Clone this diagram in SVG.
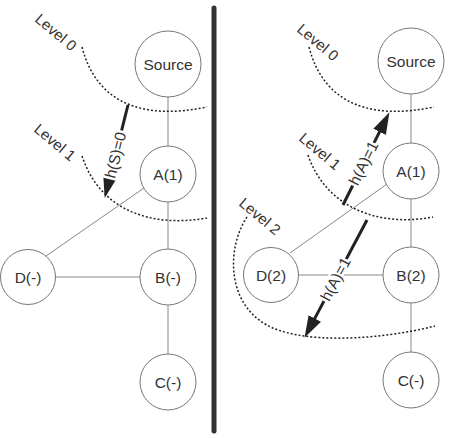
<svg xmlns="http://www.w3.org/2000/svg" width="474" height="439" viewBox="0 0 474 439">
<defs>
<style>
.node circle{fill:#fff;stroke:#777;stroke-width:1}
.node text,.lbl{font-family:"Liberation Sans",Arial,sans-serif;font-size:15.5px;fill:#333;text-anchor:middle}
.lbl{font-size:15px}
.edge{stroke:#888;stroke-width:1;fill:none}
.lvl{stroke:#222;stroke-width:1.5;stroke-dasharray:2 2;fill:none}
.arr{stroke:#222;stroke-width:3;fill:none;marker-end:url(#ah)}
.alb{font-family:"Liberation Sans",Arial,sans-serif;font-size:15.5px;fill:#333;text-anchor:middle;stroke:#fff;stroke-width:5;paint-order:stroke;stroke-linejoin:round}
</style>
<marker id="ah" markerUnits="userSpaceOnUse" markerWidth="22" markerHeight="14" refX="13" refY="7" orient="auto" viewBox="0 0 22 14">
<path d="M0,0 L22,7 L0,14 z" fill="#222"/>
</marker>
</defs>
<rect width="474" height="439" fill="#fff"/>
<line x1="214" y1="8" x2="214" y2="431" stroke="#333" stroke-width="5" stroke-linecap="round"/>
<g id="connectors">
<line class="edge" x1="168" y1="97" x2="168" y2="146"/>
<line class="edge" x1="168" y1="202" x2="168" y2="249"/>
<line class="edge" x1="168" y1="305" x2="168" y2="354"/>
<line class="edge" x1="55" y1="277" x2="140" y2="277"/>
<line class="edge" x1="144" y1="188" x2="46" y2="256"/>
<line class="edge" x1="411" y1="94" x2="411" y2="143"/>
<line class="edge" x1="411" y1="199" x2="411" y2="248"/>
<line class="edge" x1="411" y1="303" x2="411" y2="352"/>
<line class="edge" x1="299" y1="275" x2="384" y2="275"/>
<line class="edge" x1="387" y1="184" x2="290" y2="253"/>
</g>
<g id="levels">
<path class="lvl" d="M82,47 C97,105 145,120 207,107"/>
<path class="lvl" d="M82,156 C100,210 150,228 207,218"/>
<path class="lvl" d="M309,47 C324,105 372,120 434,107"/>
<path class="lvl" d="M308,155 C325,205 375,228 433,217"/>
<path class="lvl" d="M247,217 C228,245 225,300 265,324 C300,345 380,340 435,326"/>
<text class="lbl" transform="translate(52.5,36.2) rotate(40)">Level 0</text>
<text class="lbl" transform="translate(51.5,146.2) rotate(40)">Level 1</text>
<text class="lbl" transform="translate(314.5,46.2) rotate(40)">Level 0</text>
<text class="lbl" transform="translate(316.5,155.2) rotate(40)">Level 1</text>
<text class="lbl" transform="translate(256.5,220.2) rotate(40)">Level 2</text>
</g>
<g id="arrows">
<line class="arr" x1="128" y1="105" x2="106.9" y2="189.2"/>
<text class="alb" transform="translate(115.5,155) rotate(-76)" dy="0.35em">h(S)=0</text>
<line class="arr" x1="343" y1="205" x2="385.4" y2="120.2"/>
<text class="alb" transform="translate(363.5,163) rotate(-63.4)" dy="0.35em">h(A)=1</text>
<line class="arr" x1="367" y1="220" x2="308.7" y2="329.9"/>
<text class="alb" transform="translate(335.5,279) rotate(-62.1)" dy="0.35em">h(A)=1</text>
</g>
<g id="L_Source" class="node"><circle cx="168" cy="64" r="33"/><text x="168" y="69.5">Source</text></g>
<g id="L_A" class="node"><circle cx="168" cy="174" r="28"/><text x="168" y="179.5">A(1)</text></g>
<g id="L_B" class="node"><circle cx="168" cy="277" r="28"/><text x="168" y="282.5">B(-)</text></g>
<g id="L_D" class="node"><circle cx="28" cy="277" r="27.5"/><text x="28" y="282.5">D(-)</text></g>
<g id="L_C" class="node"><circle cx="168" cy="382" r="28"/><text x="168" y="387.5">C(-)</text></g>
<g id="R_Source" class="node"><circle cx="411" cy="61" r="33"/><text x="411" y="66.5">Source</text></g>
<g id="R_A" class="node"><circle cx="411" cy="171" r="28"/><text x="411" y="176.5">A(1)</text></g>
<g id="R_B" class="node"><circle cx="411" cy="275" r="28"/><text x="411" y="280.5">B(2)</text></g>
<g id="R_D" class="node"><circle cx="271" cy="275" r="27.5"/><text x="271" y="280.5">D(2)</text></g>
<g id="R_C" class="node"><circle cx="411" cy="380" r="28"/><text x="411" y="385.5">C(-)</text></g>
</svg>
